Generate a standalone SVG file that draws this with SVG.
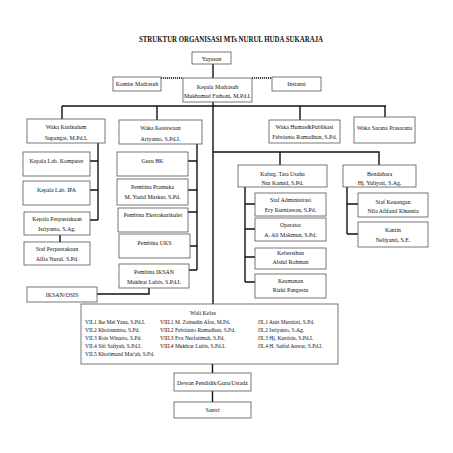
<svg xmlns="http://www.w3.org/2000/svg" width="453" height="453" viewBox="0 0 453 453">
<style>
.b{fill:#fff;stroke:#555;stroke-width:0.8}
.t{font-family:"Liberation Serif","Times New Roman",serif;font-size:5.9px;fill:#111;text-anchor:middle}
.w{font-family:"Liberation Serif","Times New Roman",serif;font-size:5.5px;fill:#111}
.c{fill:none;stroke:#111;stroke-width:1.4}
.d{fill:none;stroke:#111;stroke-width:1.4;stroke-dasharray:1.2 0.8}
</style>
<rect width="453" height="453" fill="#fff"/>
<text x="231" y="42" font-family="Liberation Serif, serif" font-weight="bold" font-size="7.5" text-anchor="middle" textLength="184" lengthAdjust="spacingAndGlyphs" fill="#111">STRUKTUR ORGANISASI MTs NURUL HUDA SUKARAJA</text>
<g id="connectors">
<path class="c" d="M213 64V78M213 102V304"/>
<path class="d" d="M161 78H183M252 78H272"/>
<path class="c" d="M62 106H386M62 106V119M157 106V120M300 106V120M385 106V117"/>
<path class="c" d="M98 143V220M90 161H98M90 190H98M90 220H98M60 235V242"/>
<path class="c" d="M97 294H149V288"/>
<path class="c" d="M197 144V270M188 161H197M188 190H197M188 212H197M190 246H197M189 270H197"/>
<path class="c" d="M213 152H379V165M280 152V165"/>
<path class="c" d="M245 187V282M245 204H255M245 229H255M245 257H255M245 282H255"/>
<path class="c" d="M347 187V234M347 204H358M347 234H358"/>
<path class="c" d="M212.5 364V373M212.5 391V402"/>
</g>
<g id="yayasan"><rect class="b" x="192" y="52" width="39" height="12"/><text class="t" x="211.5" y="60.5">Yayasan</text></g>
<g id="komite"><rect class="b" x="113" y="77" width="48" height="14"/><text class="t" x="137" y="86">Komite Madrasah</text></g>
<g id="kepala"><rect class="b" x="183" y="78" width="69" height="24"/><text class="t" x="217.5" y="88.5">Kepala Madrasah</text><text class="t" x="217.5" y="98">Mukhamad Fathoni, M.Pd.I.</text></g>
<g id="instansi"><rect class="b" x="272" y="77" width="49" height="14"/><text class="t" x="296.5" y="86">Instansi</text></g>
<g id="kurikulum"><rect class="b" x="27" y="119" width="78" height="24"/><text class="t" x="66" y="128.5">Waka Kurikulum</text><text class="t" x="66" y="139.5">Supangat, M.Pd.I.</text></g>
<g id="labkom"><rect class="b" x="23" y="152" width="67" height="24"/><text class="t" x="56.5" y="163">Kepala Lab. Komputer</text></g>
<g id="labipa"><rect class="b" x="23" y="181" width="67" height="24"/><text class="t" x="56.5" y="192">Kepala Lab. IPA</text></g>
<g id="perpus"><rect class="b" x="24" y="212" width="66" height="23"/><text class="t" x="57" y="220.5">Kepala Perpustakaan</text><text class="t" x="57" y="230.5">Isriyanto, S.Ag.</text></g>
<g id="stafperpus"><rect class="b" x="24" y="242" width="66" height="23"/><text class="t" x="57" y="251">Staf  Perpustakaan</text><text class="t" x="57" y="260.5">Alfia Nurul, S.Pd.</text></g>
<g id="osis"><rect class="b" x="27" y="287" width="70" height="15"/><text class="t" x="62" y="297">IKSAN/OSIS</text></g>
<g id="kesiswaan"><rect class="b" x="119" y="120" width="83" height="24"/><text class="t" x="160.5" y="130">Waka Kesiswaan</text><text class="t" x="160.5" y="140.5">Ariyanto, S.Pd.I.</text></g>
<g id="gurubk"><rect class="b" x="117" y="152" width="71" height="24"/><text class="t" x="152.5" y="163">Guru BK</text></g>
<g id="pramuka"><rect class="b" x="117" y="179" width="71" height="26"/><text class="t" x="152.5" y="189">Pembina Pramuka</text><text class="t" x="152.5" y="198.5">M. Yazid Maskur, S.Pd.</text></g>
<g id="ekstra"><rect class="b" x="118" y="208" width="70" height="24"/><text class="t" x="153" y="217">Pembina Ekstrakurikuler</text></g>
<g id="uks"><rect class="b" x="119" y="234" width="71" height="24"/><text class="t" x="154.5" y="245">Pembina UKS</text></g>
<g id="iksan"><rect class="b" x="119" y="264" width="70" height="24"/><text class="t" x="154" y="274">Pembina IKSAN</text><text class="t" x="154" y="284">Mukhtar Lubis, S.Pd.I.</text></g>
<g id="humas"><rect class="b" x="269" y="120" width="71" height="23"/><text class="t" x="304.5" y="128.5">Waka Humas&amp;Publikasi</text><text class="t" x="304.5" y="138.5">Febrianto Ramadhan, S.Pd.</text></g>
<g id="sarana"><rect class="b" x="354" y="117" width="61" height="26"/><text class="t" x="384.5" y="129.5">Waka Sarana Prasarana</text></g>
<g id="kabag"><rect class="b" x="238" y="165" width="89" height="22"/><text class="t" x="282.5" y="175.5">Kabag. Tata Usaha</text><text class="t" x="282.5" y="184.5">Nur Kamid, S.Pd.</text></g>
<g id="bendahara"><rect class="b" x="343" y="165" width="73" height="22"/><text class="t" x="379.5" y="175.5">Bendahara</text><text class="t" x="379.5" y="184.5">Hj. Yuliyati, S.Ag.</text></g>
<g id="stafadm"><rect class="b" x="255" y="193" width="71" height="23"/><text class="t" x="290.5" y="202">Staf Administrasi</text><text class="t" x="290.5" y="211.5">Ery Kurniawan, S.Pd.</text></g>
<g id="operator"><rect class="b" x="255" y="218" width="71" height="23"/><text class="t" x="290.5" y="227">Operator</text><text class="t" x="290.5" y="236.5">A. Ali Makmun, S.Pd.</text></g>
<g id="kebersihan"><rect class="b" x="255" y="248" width="71" height="21"/><text class="t" x="290.5" y="255">Kebersihan</text><text class="t" x="290.5" y="264">Abdul Rohman</text></g>
<g id="keamanan"><rect class="b" x="255" y="274" width="71" height="24"/><text class="t" x="290.5" y="283">Keamanan</text><text class="t" x="290.5" y="292">Rizki Pangestu</text></g>
<g id="stafkeu"><rect class="b" x="358" y="193" width="70" height="24"/><text class="t" x="393" y="204">Staf Keuangan</text><text class="t" x="393" y="213">Nila Afifatul Khusnia</text></g>
<g id="kantin"><rect class="b" x="358" y="222" width="70" height="25"/><text class="t" x="393" y="232">Kantin</text><text class="t" x="393" y="242">Neliyanti, S.E.</text></g>
<g id="walikelas"><rect class="b" x="81" y="304" width="257" height="60"/>
<text class="t" x="203" y="315">Wali Kelas</text>
<text class="w" x="85" y="324">VII.1 Ike Mei Yana, S.Pd.I.</text>
<text class="w" x="85" y="332">VII.2 Khoirunnisa, S.Pd.</text>
<text class="w" x="85" y="340">VII.3 Rois Winarto, S.Pd.</text>
<text class="w" x="85" y="348">VII.4 Siti Safiyah, S.Pd.I.</text>
<text class="w" x="85" y="356">VII.5 Khotimatul Mar'ah, S.Pd.</text>
<text class="w" x="160" y="324">VIII.1 M. Zainudin Afas, M.Pd.</text>
<text class="w" x="160" y="332">VIII.2 Febrianto Ramadhan, S.Pd.</text>
<text class="w" x="160" y="340">VIII.3 Eva Nurfatimah, S.Pd.</text>
<text class="w" x="160" y="348">VIII.4 Mukhtar Lubis, S.Pd.I.</text>
<text class="w" x="258" y="324">IX.1 Anis Murniati, S.Pd.</text>
<text class="w" x="258" y="332">IX.2 Isriyanto, S.Ag.</text>
<text class="w" x="258" y="340">IX.3 Hj. Kustirin, S.Pd.I.</text>
<text class="w" x="258" y="348">IX.4 H. Saiful Anwar, S.Pd.I.</text>
</g>
<g id="dewan"><rect class="b" x="174" y="373" width="77" height="18"/><text class="t" x="212.5" y="384.5">Dewan Pendidik/Guru/Ustadz</text></g>
<g id="santri"><rect class="b" x="174" y="402" width="77" height="16"/><text class="t" x="212.5" y="412">Santri</text></g>
</svg>
